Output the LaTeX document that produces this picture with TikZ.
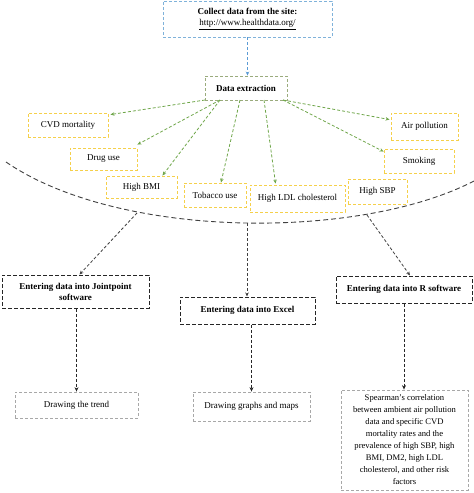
\documentclass[tikz,border=0pt]{standalone}
\usepackage{fontspec}
\setmainfont{Liberation Serif}
\usetikzlibrary{arrows.meta,calc}
\definecolor{topblue}{HTML}{7FB2DA}
\definecolor{arrblue}{HTML}{5B9BD5}
\definecolor{olivebox}{HTML}{9AAB7C}
\definecolor{greenarr}{HTML}{6FA64A}
\definecolor{yellowbox}{HTML}{F5D04A}
\definecolor{graybox}{HTML}{A8A8A8}
\definecolor{darkline}{HTML}{404040}
\tikzset{
  basebox/.style={rectangle, inner sep=0pt, align=center, font=\fontsize{9}{11}\selectfont},
  bluebox/.style={basebox, draw=topblue, line width=0.9pt, dash pattern=on 3pt off 2pt},
  olivebx/.style={basebox, draw=olivebox, line width=0.9pt, dash pattern=on 3pt off 2pt, font=\fontsize{9}{11}\selectfont\bfseries},
  ybox/.style={basebox, draw=yellowbox, line width=0.9pt, dash pattern=on 3pt off 2pt},
  kbox/.style={basebox, draw=black!85, line width=1pt, dash pattern=on 4pt off 2pt, font=\fontsize{9}{11}\selectfont\bfseries},
  gbox/.style={basebox, draw=graybox, line width=0.8pt, dash pattern=on 3pt off 2pt},
  garrow/.style={draw=greenarr, line width=0.8pt, dash pattern=on 3pt off 2pt, -{Stealth[length=4pt,width=3.5pt]}},
  barrow/.style={draw=arrblue, line width=0.8pt, dash pattern=on 3pt off 2pt, -{Stealth[length=4pt,width=3.5pt]}},
  karrow/.style={draw=darkline, line width=0.8pt, dash pattern=on 3pt off 2pt, -{Stealth[length=4pt,width=3.5pt]}},
  kvarrow/.style={draw=black!85, line width=1pt, dash pattern=on 3pt off 2pt, -{Stealth[length=4.5pt,width=4pt]}},
}
\begin{document}
\begin{tikzpicture}[x=1pt,y=-1pt]
\useasboundingbox (0,0) rectangle (474,493);

% top
\node[bluebox, minimum width=169pt, minimum height=36pt] (top) at (247.5,19)
  {\textbf{Collect data from the site:}\\\underline{http://www.healthdata.org/}};
\node[olivebx, minimum width=82pt, minimum height=24pt] (de) at (246,88) {Data extraction};
\draw[barrow] (top.south) -- (top.south |- de.north);

% risk factor boxes
\node[ybox, minimum width=80pt, minimum height=24pt] (cvd) at (68,125) {CVD mortality};
\node[ybox, minimum width=67pt, minimum height=22pt] (drug) at (103.5,159) {Drug use};
\node[ybox, minimum width=71pt, minimum height=22pt] (bmi) at (141.5,187) {High BMI};
\node[ybox, minimum width=62pt, minimum height=24pt] (tob) at (215,195) {Tobacco use};
\node[ybox, minimum width=95pt, minimum height=27pt] (ldl) at (297.5,198.5) {High LDL cholesterol};
\node[ybox, minimum width=59pt, minimum height=25pt] (sbp) at (377.5,191.5) {High SBP};
\node[ybox, minimum width=70pt, minimum height=24pt] (smk) at (419,161) {Smoking};
\node[ybox, minimum width=67pt, minimum height=27pt] (air) at (424.5,126.5) {Air pollution};

\coordinate (s1) at (205,100);
\coordinate (s2) at (220,100);
\coordinate (s3) at (240,100);
\coordinate (s4) at (264,100);
\coordinate (s5) at (283,100);
\draw[garrow] (s1) -- ($(cvd.north east)+(2,2)$);
\draw[garrow] (s2) -- ($(drug.north east)+(0,-3)$);
\draw[garrow] (s2) -- ($(bmi.north east)+(-15,0)$);
\draw[garrow] (s3) -- ($(tob.north)+(6,0)$);
\draw[garrow] (s4) -- ($(ldl.north west)+(26,-1)$);
\draw[garrow] (s5) -- ($(smk.north west)+(0,3)$);
\draw[garrow] (s5) -- ($(air.north west)+(-1,7)$);

% arc
\draw[draw=darkline, line width=0.9pt, dash pattern=on 5pt off 3pt]
  (6,162) .. controls (120,240) and (360,240) .. (474,181);
\coordinate (a1) at (137,213);
\coordinate (a2) at (247,223);
\coordinate (a3) at (367,215);

% software boxes
\node[kbox, minimum width=147pt, minimum height=33pt] (jp) at (75.5,291.5)
  {Entering data into Jointpoint\\software};
\node[kbox, minimum width=135pt, minimum height=27pt] (ex) at (247.5,310.5)
  {Entering data into Excel};
\node[kbox, minimum width=136pt, minimum height=27pt] (rb) at (404,289.5)
  {Entering data into R software};

\draw[karrow] (a1) -- ($(jp.north)+(4,0)$);
\draw[karrow] (a2) -- (a2 |- ex.north);
\draw[karrow] (a3) -- ($(rb.north)+(6,0)$);

% result boxes
\node[gbox, minimum width=123pt, minimum height=26pt] (trend) at (76.5,405) {Drawing the trend};
\node[gbox, minimum width=117pt, minimum height=29pt] (graphs) at (251.5,406.5) {Drawing graphs and maps};
\node[gbox, minimum width=127pt, minimum height=100pt, font=\fontsize{8.6}{12}\selectfont] (sp) at (404.5,440)
  {Spearman's correlation\\between ambient air pollution\\data and specific CVD\\mortality rates and the\\prevalence of high SBP, high\\BMI, DM2, high LDL\\cholesterol, and other risk\\factors};

\draw[kvarrow] (trend.north |- jp.south) -- (trend.north);
\draw[kvarrow] (graphs.north |- ex.south) -- (graphs.north);
\draw[kvarrow] (rb.south) -- (rb.south |- sp.north);
\end{tikzpicture}
\end{document}
